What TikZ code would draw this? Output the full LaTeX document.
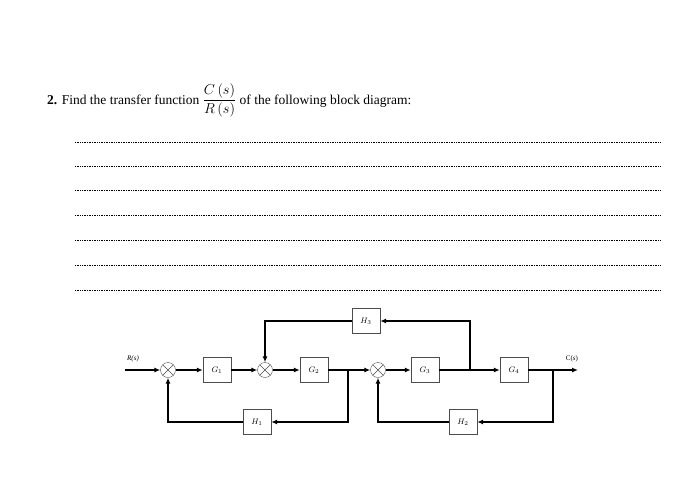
\documentclass[tikz,border=0pt]{standalone}
\usepackage{amsmath}
\usepackage{fontspec}
\setmainfont{Liberation Serif}
\usetikzlibrary{arrows.meta}
\begin{document}
\begin{tikzpicture}[x=1pt,y=-1pt,
  blk/.style={draw=black!70,fill=white,minimum width=28pt,minimum height=25pt,inner sep=0pt,font=\footnotesize\itshape},
  sumj/.style={draw=black!70,circle,minimum size=15pt,inner sep=0pt,path picture={\draw[black!70] (path picture bounding box.north west)--(path picture bounding box.south east) (path picture bounding box.north east)--(path picture bounding box.south west);}},
  wire/.style={line width=1.6pt,-{Latex[length=6pt,width=5pt]}},
  dots/.style={densely dotted,line width=0.7pt}]
\useasboundingbox (0,0) rectangle (700,503);
\node[anchor=base west,font=\fontsize{13.5}{16}\selectfont,inner sep=0pt] (q) at (47,104) {\textbf{2.} Find the transfer function $\dfrac{C\left(s\right)}{R\left(s\right)}$ of the following block diagram:};
\foreach \yy in {142,166,190,215,240,265,290} \draw[dots] (75,\yy)--(660,\yy);
\node[sumj] (s1) at (168,370) {};
\node[blk] (g1) at (217,370) {$G_1$};
\node[sumj] (s2) at (265,370) {};
\node[blk] (g2) at (314,370) {$G_2$};
\node[sumj] (s3) at (378,370) {};
\node[blk] (g3) at (425,370) {$G_3$};
\node[blk] (g4) at (514,370) {$G_4$};
\node[blk] (h3) at (366,321) {$H_3$};
\node[blk] (h1) at (257,422) {$H_1$};
\node[blk] (h2) at (463,422) {$H_2$};
\coordinate (in) at (125,370);
\coordinate (out) at (578,370);
\coordinate (b1) at (348,370);
\coordinate (b2) at (470,370);
\coordinate (b3) at (553,370);
\node[font=\scriptsize\itshape,anchor=south] (rl) at (133,366) {R(s)};
\node[font=\scriptsize,anchor=south] (cl) at (572,366) {C(\textit{s})};
\draw[wire] (in)--(s1);
\draw[wire] (s1)--(g1);
\draw[wire] (g1)--(s2);
\draw[wire] (s2)--(g2);
\draw[wire] (g2)--(s3);
\draw[wire] (s3)--(g3);
\draw[wire] (g3)--(g4);
\draw[wire] (g4)--(out);
\draw[wire] (b2)|-(h3);
\draw[wire] (h3)-|(s2);
\draw[wire] (b1)|-(h1);
\draw[wire] (h1)-|(s1);
\draw[wire] (b3)|-(h2);
\draw[wire] (h2)-|(s3);
\end{tikzpicture}
\end{document}
